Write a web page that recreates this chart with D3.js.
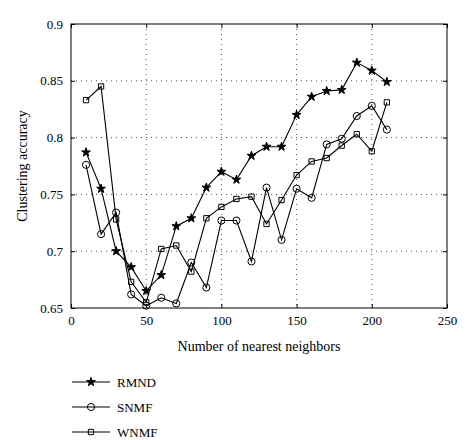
<!DOCTYPE html><html><head><script src="https://cdn.jsdelivr.net/npm/d3@7"></script>
<style>body{margin:0;background:#fff}text{font-family:"Liberation Serif",serif;fill:#000}</style></head><body>
<svg id="c" width="474" height="440"></svg>
<script>
const neighbors=[10,20,30,40,50,60,70,80,90,100,110,120,130,140,150,160,170,180,190,200,210];
const RMND=[.787,.755,.700,.686,.665,.679,.722,.729,.756,.770,.763,.784,.792,.792,.820,.836,.841,.842,.866,.859,.849];
const SNMF=[.776,.715,.734,.662,.652,.659,.654,.690,.668,.727,.727,.691,.756,.710,.755,.747,.794,.799,.819,.828,.807];
const WNMF=[.833,.845,.728,.673,.655,.702,.705,.682,.729,.739,.746,.748,.724,.745,.767,.779,.782,.793,.803,.788,.831];
const xTicks=[0,50,100,150,200,250], yTicks=[0.65,0.7,0.75,0.8,0.85,0.9];
const svg=d3.select("#c");
const L=71,R=447,T=24,B=308;
const x=d3.scaleLinear().domain([0,250]).range([L,R]);
const y=d3.scaleLinear().domain([0.65,0.9]).range([B,T]);
const g=svg.append("g");
xTicks.slice(1,-1).forEach(t=>g.append("line").attr("x1",x(t)).attr("x2",x(t)).attr("y1",T).attr("y2",B).attr("stroke","#555").attr("stroke-dasharray","1,4"));
yTicks.slice(1,-1).forEach(t=>g.append("line").attr("x1",L).attr("x2",R).attr("y1",y(t)).attr("y2",y(t)).attr("stroke","#555").attr("stroke-dasharray","1,4"));
svg.append("g").attr("transform",`translate(0,${B})`).call(d3.axisBottom(x).tickValues(xTicks).tickSize(-4).tickPadding(8)).call(a=>{a.select(".domain").remove();a.selectAll("text").style("font-size","13px")});
svg.append("g").attr("transform",`translate(0,${T})`).call(d3.axisTop(x).tickValues(xTicks).tickSize(-4).tickFormat("")).call(a=>a.select(".domain").remove());
svg.append("g").attr("transform",`translate(${L},0)`).call(d3.axisLeft(y).tickValues(yTicks).tickSize(-4).tickPadding(8).tickFormat(d3.format(".2~f"))).call(a=>{a.select(".domain").remove();a.selectAll("text").style("font-size","13px")});
svg.append("g").attr("transform",`translate(${R},0)`).call(d3.axisRight(y).tickValues(yTicks).tickSize(-4).tickFormat("")).call(a=>a.select(".domain").remove());
svg.append("rect").attr("x",L).attr("y",T).attr("width",R-L).attr("height",B-T).attr("fill","none").attr("stroke","#000");
svg.append("text").attr("x",(L+R)/2).attr("y",351).attr("text-anchor","middle").style("font-size","14px").text("Number of nearest neighbors");
svg.append("text").attr("transform",`translate(27,${(T+B)/2}) rotate(-90)`).attr("text-anchor","middle").style("font-size","14px").text("Clustering accuracy");
const star=d3.symbol().type(d3.symbolStar).size(24), circ=d3.symbol().type(d3.symbolCircle).size(40), sq=d3.symbol().type(d3.symbolSquare).size(28);
const series=[{n:"RMND",v:RMND,s:star,f:"#000"},{n:"SNMF",v:SNMF,s:circ,f:"none"},{n:"WNMF",v:WNMF,s:sq,f:"none"}];
const line=d3.line().x((d,i)=>x(neighbors[i])).y(d=>y(d));
series.forEach((s,k)=>{
 svg.append("path").attr("d",line(s.v)).attr("fill","none").attr("stroke","#000").attr("stroke-width",1.1);
 svg.selectAll(null).data(s.v).enter().append("path").attr("d",s.s).attr("transform",(d,i)=>`translate(${x(neighbors[i])},${y(d)})`).attr("fill",s.f).attr("stroke","#000");
 const ly=382+k*25;
 svg.append("line").attr("x1",72).attr("x2",110).attr("y1",ly).attr("y2",ly).attr("stroke","#000");
 svg.append("path").attr("d",s.s).attr("transform",`translate(91,${ly})`).attr("fill",s.f).attr("stroke","#000");
 svg.append("text").attr("x",117).attr("y",ly+5).style("font-size","13px").text(s.n);
});
</script></body></html>
